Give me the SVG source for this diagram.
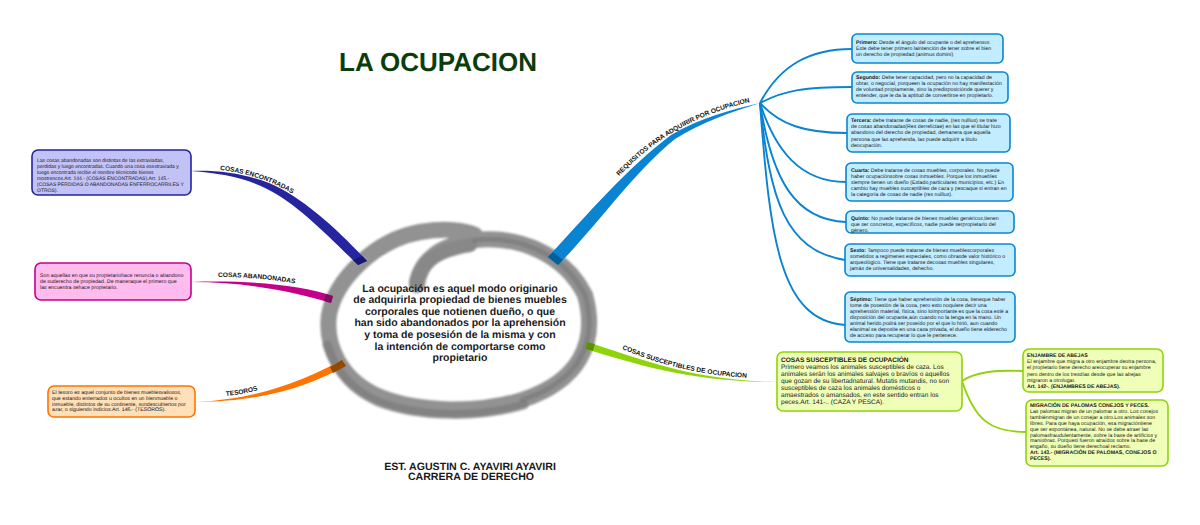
<svg xmlns="http://www.w3.org/2000/svg" width="1200" height="525" viewBox="0 0 1200 525">
<style>
text{font-family:"Liberation Sans",Arial,sans-serif;fill:#1a1a1a;text-rendering:geometricPrecision}
.t{font-size:5.25px}
.b{font-weight:bold}
.lbl{font-size:6.6px;font-weight:bold;fill:#111}
.big{font-size:10.5px;font-weight:bold;text-anchor:middle}
.foot{font-size:10.6px;font-weight:bold;text-anchor:middle}
.box{stroke-width:1.6}
.blue{fill:#c2ecff;stroke:#0a86d2}
.green{fill:#efffb8;stroke:#8fd40a}
.navy{fill:#c2c2f7;stroke:#25259f}
.pink{fill:#ffbbee;stroke:#c4008a}
.orange{fill:#ffe0b8;stroke:#ff7400}
.line{fill:none;stroke-width:1.9}
</style>
<defs>
<filter id="soft" x="-5%" y="-5%" width="110%" height="110%"><feGaussianBlur stdDeviation="0.9"/></filter>
<path id="pBlue" d="M619,176 C645,150 680,118 754,101"/>
<path id="pGreen" d="M622,349 C660,365 700,375 749,378"/>
<path id="pNavy" d="M220,170 C240,172 270,179 296,196"/>
<path id="pMag" d="M218,277 C245,277 270,279 297,284"/>
<path id="pOr" d="M226,396 C237,395 248,393 258,390"/>
</defs>
<rect width="1200" height="525" fill="#fff"/>

<g id="center">
<g fill="none" filter="url(#soft)" stroke-linecap="round">
<path d="M417,285 C420,260 440,245 475,240 C520,235 565,255 585,295 C599,345 577,382 522,400 C480,413 420,413 380,397 C340,380 325,345 329,315 C335,280 375,240 420,232 C445,228 465,230 475,235" stroke="#929292" stroke-width="16"/>
<path d="M524,405 C480,418 420,418 378,402 C350,390 335,370 327,345" stroke="#7c7c7c" stroke-width="9" opacity=".7"/>
<path d="M416,282 C420,262 438,250 470,245" stroke="#888" stroke-width="14"/>
<path d="M475,240 C520,235 565,255 585,295 C599,345 577,382 522,400" stroke="#6a6a6a" stroke-width="5" opacity=".4"/>
</g>
<text class="big"><tspan x="460" y="291.500">La ocupación es aquel modo originario</tspan><tspan x="460" y="303.200">de adquirirla propiedad de bienes muebles</tspan><tspan x="460" y="314.800">corporales que notienen dueño, o que</tspan><tspan x="460" y="326.400">han sido abandonados por la aprehensión</tspan><tspan x="460" y="338">y toma de posesión de la misma y con</tspan><tspan x="460" y="349.600">la intención de comportarse como</tspan><tspan x="460" y="361.200">propietario</tspan></text>
</g>

<g id="connectors">
<path fill="#0a84d0" d="M548,257 C585,217 628,167 671,135 C700,118 730,110 760,103 C732,112 702,122 675,139 C633,173 596,227 558,265 Z"/>
<path fill="#065f96" d="M548,257 L553,252 L563,260 L558,265 Z"/>
<g stroke="#0a84d0">
<path class="line" d="M760,103 C780,65 810,49 852,49"/>
<path class="line" d="M760,103 C785,90 805,87 852,87"/>
<path class="line" d="M760,103 C780,125 805,133 847,133"/>
<path class="line" d="M760,103 C775,150 800,182 846,182"/>
<path class="line" d="M760,103 C772,180 795,220 846,222"/>
<path class="line" d="M760,103 C770,200 785,250 845,260"/>
<path class="line" d="M760,103 C770,240 780,320 845,325"/>
</g>
<path fill="#25259f" d="M367,261 C340,232 303,197 269,183 C245,174 220,170 191,171 C220,173 245,178 265,188 C297,203 330,238 358,265 Z"/>
<path fill="#181870" d="M358,265 L353,260 L362,256 L367,261 Z"/>
<path fill="#c4008a" d="M331,303 C300,293 250,282 191,282 C250,280 300,285 333,296 Z"/>
<path fill="#7e0e62" d="M331,303 L324,301 L326,294 L333,296 Z"/>
<path fill="#ff7400" d="M346,366 C310,385 265,402 195,402 C260,399 305,380 342,360 Z"/>
<path fill="#8f4a08" d="M346,366 L333,373 L330,367 L342,360 Z"/>
<path fill="#8fd40a" d="M585,349 C640,365 690,382 777,382 C690,380 645,360 587,342 Z"/>
<path fill="#5f8f08" d="M585,349 L593,351 L595,344 L587,342 Z"/>
<g stroke="#8fd40a">
<path class="line" d="M962,381 C975,372 995,370 1023,371"/>
<path class="line" d="M962,381 C975,420 990,432 1026,432"/>
</g>
<text class="lbl"><textPath href="#pBlue">REQUISITOS PARA ADQUIRIR POR OCUPACION</textPath></text>
<text class="lbl"><textPath href="#pGreen">COSAS SUSCEPTIBLES DE OCUPACION</textPath></text>
<text class="lbl"><textPath href="#pNavy">COSAS ENCONTRADAS</textPath></text>
<text class="lbl"><textPath href="#pMag">COSAS ABANDONADAS</textPath></text>
<text class="lbl"><textPath href="#pOr">TESOROS</textPath></text>
</g>

<g id="title"><text x="438" y="71" font-size="26" font-weight="bold" text-anchor="middle" style="fill:#0b3d0b">LA OCUPACION</text></g>
<g id="footer"><text class="foot"><tspan x="470" y="470">EST. AGUSTIN C. AYAVIRI AYAVIRI</tspan><tspan x="471" y="480">CARRERA DE DERECHO</tspan></text></g>

<g id="n-primero"><rect class="box blue" x="852" y="34" width="151" height="29" rx="5"/><text class="t"><tspan x="856" y="43.700" class="b">Primero:</tspan><tspan> Desde el ángulo del ocupante o del aprehensor.</tspan><tspan x="856" y="49.700">Éste debe tener primero laintención de tener sobre el bien</tspan><tspan x="856" y="55.700">un derecho de propiedad (animus domini)</tspan></text></g>
<g id="n-segundo"><rect class="box blue" x="852" y="72" width="156" height="31" rx="5"/><text class="t"><tspan x="856" y="79.300" class="b">Segundo:</tspan><tspan> Debe tener capacidad, pero no la capacidad de</tspan><tspan x="856" y="85.300">obrar, o negocial, porqueen la ocupación no hay manifestación</tspan><tspan x="856" y="91.300">de voluntad propiamente, sino la predisposiciónde querer y</tspan><tspan x="856" y="97.300">entender, que le da la aptitud de convertirse en propietario.</tspan></text></g>
<g id="n-tercera"><rect class="box blue" x="847" y="114" width="163" height="38" rx="5"/><text class="t"><tspan x="851" y="122" class="b">Tercera:</tspan><tspan> debe tratarse de cosas de nadie, (res nullius) se trate</tspan><tspan x="851" y="128.200">de cosas abandonadas(Res derrelictae) en las que el titular hizo</tspan><tspan x="851" y="134.400">abandono del derecho de propiedad, demanera que aquella</tspan><tspan x="851" y="140.600">persona que las aprehenda, las puede adquirir a título</tspan><tspan x="851" y="146.800">deocupación.</tspan></text></g>
<g id="n-cuarta"><rect class="box blue" x="846" y="163" width="167" height="38" rx="5"/><text class="t"><tspan x="851" y="172" class="b">Cuarta:</tspan><tspan> Debe tratarse de cosas muebles, corporales. No puede</tspan><tspan x="851" y="178">haber ocupaciónsobre cosas inmuebles. Porque los inmuebles</tspan><tspan x="851" y="184">siempre tienen un dueño (Estado,particulares municipios, etc.) En</tspan><tspan x="851" y="190">cambio hay muebles susceptibles de caza y pescaque si entran en</tspan><tspan x="851" y="196">la categoría de cosas de nadie (res nullius).</tspan></text></g>
<g id="n-quinto"><rect class="box blue" x="846" y="211" width="168" height="22" rx="5"/><text class="t"><tspan x="851" y="220" class="b">Quinto:</tspan><tspan> No puede tratarse de bienes muebles genéricos,tienen</tspan><tspan x="851" y="226">que ser concretos, específicos, nadie puede serpropietario del</tspan><tspan x="851" y="232">género.</tspan></text></g>
<g id="n-sexto"><rect class="box blue" x="845" y="244" width="170" height="32" rx="5"/><text class="t"><tspan x="850" y="252" class="b">Sexto:</tspan><tspan> Tampoco puede tratarse de bienes mueblescorporales</tspan><tspan x="850" y="258">sometidos a regímenes especiales, como obrasde valor histórico o</tspan><tspan x="850" y="264">arqueológico. Tiene que tratarse decosas muebles singulares,</tspan><tspan x="850" y="270">jamás de universalidades, dehecho.</tspan></text></g>
<g id="n-septimo"><rect class="box blue" x="845" y="292" width="170" height="50" rx="5"/><text class="t"><tspan x="850" y="301" class="b">Séptimo:</tspan><tspan> Tiene que haber aprehensión de la cosa, tieneque haber</tspan><tspan x="850" y="307">tome de posesión de la cosa, pero esto noquiere decir una</tspan><tspan x="850" y="313">aprehensión material, física, sino loimportante es que la cosa esté a</tspan><tspan x="850" y="319">disposición del ocupante,aún cuando no la tenga en la mano. Un</tspan><tspan x="850" y="325">animal herido,podrá ser poseído por el que lo hirió, aun cuando</tspan><tspan x="850" y="331">elanimal se deposite en una casa privada, el dueño tiene elderecho</tspan><tspan x="850" y="337">de acceso para recuperar lo que le pertenece.</tspan></text></g>

<g id="n-susceptibles"><rect class="box green" x="777" y="352" width="185" height="59" rx="6"/><text style="font-size:6.55px"><tspan x="781" y="361.500" class="b">COSAS SUSCEPTIBLES DE OCUPACIÓN</tspan><tspan x="781" y="368.500">Primero veamos los animales susceptibles de caza. Los</tspan><tspan x="781" y="375.500">animales serán los animales salvajes o bravíos o aquellos</tspan><tspan x="781" y="382.500">que gozan de su libertadnatural. Mutatis mutandis, no son</tspan><tspan x="781" y="389.500">susceptibles de caza los animales domésticos o</tspan><tspan x="781" y="396.500">amaestrados o amansados, en este sentido entran los</tspan><tspan x="781" y="403.500">peces.Art. 141-.. (CAZA Y PESCA).</tspan></text></g>
<g id="n-enjambre"><rect class="box green" x="1023" y="349" width="140" height="43" rx="6"/><text class="t"><tspan x="1027" y="357" class="b">ENJAMBRE DE ABEJAS</tspan><tspan x="1027" y="363.200">El enjambre que migra a otro enjambre deotra persona,</tspan><tspan x="1027" y="369.400">el propietario tiene derecho areocuperar su enjambre</tspan><tspan x="1027" y="375.600">pero dentro de los tresdías desde que las abejas</tspan><tspan x="1027" y="381.800">migraron a otrolugar.</tspan><tspan x="1027" y="388" class="b">Art. 142-. (ENJAMBRES DE ABEJAS).</tspan></text></g>
<g id="n-migracion"><rect class="box green" x="1026" y="400" width="142" height="66" rx="6"/><text class="t"><tspan x="1030" y="407" class="b">MIGRACIÓN DE PALOMAS CONEJOS Y PECES.</tspan><tspan x="1030" y="412.900">Las palomas migran de un palomar a otro. Los conejos</tspan><tspan x="1030" y="418.800">tambiénmigran de un conejar a otro.Los animales son</tspan><tspan x="1030" y="424.700">libres. Para que haya ocupación, esa migracióntiene</tspan><tspan x="1030" y="430.600">que ser espontánea, natural. No se debe atraer las</tspan><tspan x="1030" y="436.500">palomasfraudulentamente, sobre la base de artificios y</tspan><tspan x="1030" y="442.400">maniobras. Porquesi fueron atraídos sobre la base de</tspan><tspan x="1030" y="448.300">engaño, su dueño tiene derechoal reclamo.</tspan><tspan x="1030" y="454.200" class="b">Art. 143.- (MIGRACIÓN DE PALOMAS, CONEJOS O</tspan><tspan x="1030" y="460.100" class="b">PECES).</tspan></text></g>

<g id="n-encontradas"><rect class="box navy" x="32" y="150" width="159" height="45" rx="6"/><text style="font-size:5.03px"><tspan x="37" y="162">Las cosas abandonadas son distintas de las extraviadas,</tspan><tspan x="37" y="167.900">perdidas y luego encontradas. Cuando una cosa esextraviada y</tspan><tspan x="37" y="173.800">luego encontrada recibe el nombre técnicode bienes</tspan><tspan x="37" y="179.700">mostrencos.Art. 144.- (COSAS ENCONTRADAS).Art. 145.-</tspan><tspan x="37" y="185.600">(COSAS PERDIDAS O ABANDONADAS ENFERROCARRILES Y</tspan><tspan x="37" y="191.500">OTROS).</tspan></text></g>
<g id="n-abandonadas"><rect class="box pink" x="35" y="263" width="156" height="37" rx="6"/><text class="t"><tspan x="40" y="277">Son aquellas en que su propietariohace renuncia o abandono</tspan><tspan x="40" y="283.200">de suderecho de propiedad. De maneraque el primero que</tspan><tspan x="40" y="289.400">las encuentra sehace propietario.</tspan></text></g>
<g id="n-tesoros"><rect class="box orange" x="48" y="386" width="147" height="31" rx="6"/><text class="t"><tspan x="52" y="394">El tesoro es aquel conjunto de bienes mueblesvaliosos,</tspan><tspan x="52" y="399.800">que estando enterrados u ocultos en un bienmueble o</tspan><tspan x="52" y="405.600">inmueble, distintos de su continente, sondescubiertos por</tspan><tspan x="52" y="411.400">azar, o siguiendo indicios.Art. 146.- (TESOROS).</tspan></text></g>
</svg>
